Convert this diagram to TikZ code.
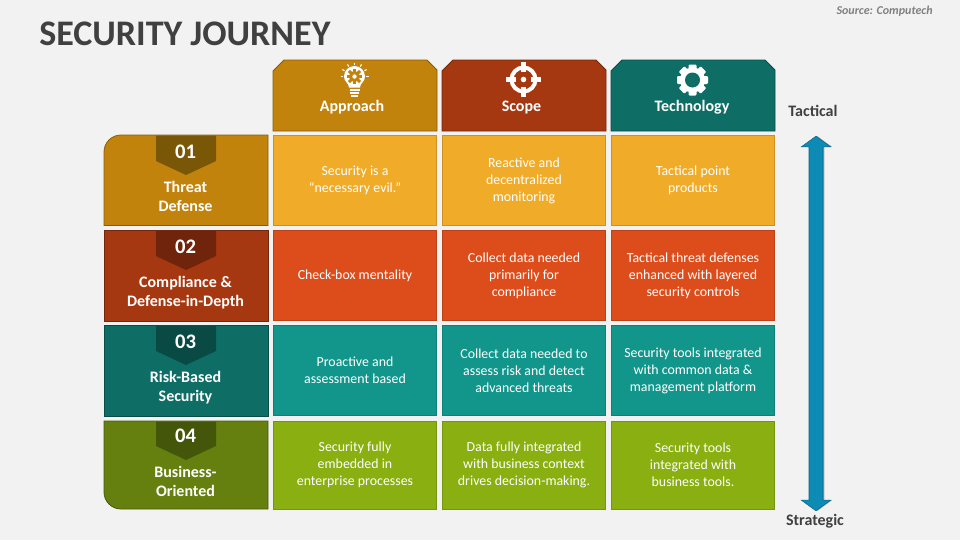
\documentclass[tikz,border=0pt]{standalone}
\usepackage{fontspec}
\setmainfont{Carlito}
\usetikzlibrary{shapes.arrows,shadows}

\definecolor{bgray}{HTML}{F2F2F2}
\definecolor{gold}{HTML}{C2830C}
\definecolor{rust}{HTML}{A53811}
\definecolor{teal2}{HTML}{0E6E66}
\definecolor{olive2}{HTML}{66800F}
\definecolor{goldlt}{HTML}{F0AB28}
\definecolor{rustlt}{HTML}{DD4D1B}
\definecolor{teallt}{HTML}{12968C}
\definecolor{olivelt}{HTML}{8AAF10}
\definecolor{golddk}{HTML}{7A5706}
\definecolor{rustdk}{HTML}{6F240B}
\definecolor{tealdk}{HTML}{0A4A45}
\definecolor{olivedk}{HTML}{445609}
\definecolor{arrowblue}{HTML}{0E8BB5}

\tikzstyle{cell}=[shape=rectangle,
                draw=#1!85!black,
                fill=#1,
                line width=0.6pt,
                minimum width=122.6pt,
                minimum height=67.8pt,
                inner sep=0pt,
                align=center,
                text=white,
                font=\fontsize{10.4}{12.75}\selectfont]
\tikzstyle{rowbox}=[draw=#1!70!black,fill=#1,line width=0.6pt]
\tikzstyle{rowtxt}=[align=center,text=white,inner sep=0pt,
                font=\fontsize{12}{14.25}\selectfont\bfseries]
\tikzstyle{numtxt}=[text=white,inner sep=0pt,font=\fontsize{15.5}{16}\selectfont\bfseries]
\tikzstyle{headtxt}=[text=white,inner sep=0pt,font=\fontsize{12}{14}\selectfont\bfseries]
\tikzstyle{sidetxt}=[text=black!75,inner sep=0pt,font=\fontsize{12}{14}\selectfont\bfseries]

\begin{document}
\begin{tikzpicture}[x=0.75pt,y=-0.75pt]

\useasboundingbox[fill=bgray] (0,0) rectangle (960,540);

% title
\node[anchor=west,inner sep=0pt,text=black!75,font=\fontsize{27}{30}\selectfont\bfseries] (title) at (39,34) {SECURITY JOURNEY};
\node[anchor=east,inner sep=0pt,text=black!50,font=\fontsize{9}{10}\selectfont\bfseries\itshape] (source) at (933,11.5) {Source: Computech};

% column heads
\draw[rowbox=gold] (273,131) -- (273,71) -- (284,60) -- (427,60) -- (437,70) -- (437,131) -- cycle;
\draw[rowbox=rust] (442,131) -- (442,71) -- (453,60) -- (596,60) -- (606,70) -- (606,131) -- cycle;
\draw[rowbox=teal2] (611,131) -- (611,71) -- (622,60) -- (765,60) -- (775,70) -- (775,131) -- cycle;

\node[headtxt] (t1) at (352,107) {Approach};
\node[headtxt] (t2) at (521.5,107.5) {Scope};
\node[headtxt] (t3) at (692,107) {Technology};

% bulb icon
\fill[white] (349,87.5) -- (360,87.5) .. controls (360,83) and (365,82) .. (365,76.5) arc (0:-180:10.5) .. controls (344,82) and (349,83) .. (349,87.5) -- cycle;
\fill[white] (349.5,89) rectangle (359.5,91);
\fill[white] (350,92) rectangle (359,94);
\fill[white] (351,95) rectangle (358,96.5);
\foreach \a in {0,45,...,315}
  \fill[gold,rotate around={\a:(354.5,76.5)}] (353,68.7) rectangle (356,72);
\fill[gold] (354.5,76.5) circle (5.6);
\fill[white] (354.5,76.5) circle (2.2);
\foreach \a in {0,-30,-60,-90,-120,-150,-180}
  \draw[white,line width=0.8pt,rotate around={\a:(354.5,76.5)}] (340.5,76.5) -- (343,76.5);

% target icon
\draw[white,line width=3pt] (523.5,79.5) circle (12);
\fill[white] (521,62) rectangle (526,72);
\fill[white] (521,87) rectangle (526,97);
\fill[white] (506,77) rectangle (516,82);
\fill[white] (531,77) rectangle (541,82);
\fill[white] (523.5,79.5) circle (2.8);

% gear icon
\foreach \a in {0,45,...,315}
  \fill[white,rounded corners=0.8pt,rotate around={\a:(692.5,80)}] (688.5,64.5) rectangle (696.5,72);
\fill[white] (692.5,80) circle (12.5);
\fill[teal2] (692.5,80) circle (7.5);

% row boxes
\draw[rowbox=gold] (268,135) -- (268,225.5) -- (104,225.5) -- (104,152) arc (180:270:17) -- cycle;
\draw[rowbox=rust] (104,230.5) rectangle (268,321);
\draw[rowbox=teal2] (104,325.5) rectangle (268,416);
\draw[rowbox=olive2] (268,421) -- (268,509) -- (121,509) arc (90:180:17) -- (104,421) -- cycle;

% badges
\fill[golddk] (156,135.5) -- (216,135.5) -- (216,161) -- (186,175) -- (156,161) -- cycle;
\fill[rustdk] (156,231) -- (216,231) -- (216,256) -- (186,270) -- (156,256) -- cycle;
\fill[tealdk] (156,326) -- (216,326) -- (216,351) -- (186,365) -- (156,351) -- cycle;
\fill[olivedk] (156,421.5) -- (216,421.5) -- (216,446) -- (186,460) -- (156,446) -- cycle;

\node[numtxt] (n1) at (185.5,152) {01};
\node[numtxt] (n2) at (185.5,247) {02};
\node[numtxt] (n3) at (185.5,342) {03};
\node[numtxt] (n4) at (185.5,436) {04};

\node[rowtxt] (r1) at (185.5,196.5) {Threat\\Defense};
\node[rowtxt] (r2) at (185.5,292.5) {Compliance \&\\Defense-in-Depth};
\node[rowtxt] (r3) at (185.5,388) {Risk-Based\\Security};
\node[rowtxt] (r4) at (185.5,481.5) {Business-\\Oriented};

% first row
\node[cell=goldlt] (a1) at (355,180.5) {Security is a\\“necessary evil.”};
\node[cell=goldlt] (b1) at (524,180.5) {Reactive and\\decentralized\\monitoring};
\node[cell=goldlt] (c1) at (693,180.5) {Tactical point\\products};

% second row
\node[cell=rustlt] (a2) at (355,275.5) {Check-box mentality};
\node[cell=rustlt] (b2) at (524,275.5) {Collect data needed\\primarily for\\compliance};
\node[cell=rustlt] (c2) at (693,275.5) {Tactical threat defenses\\enhanced with layered\\security controls};

% third row
\node[cell=teallt] (a3) at (355,370.5) {Proactive and\\assessment based};
\node[cell=teallt] (b3) at (524,370.5) {Collect data needed to\\assess risk and detect\\advanced threats};
\node[cell=teallt] (c3) at (693,370.5) {Security tools integrated\\with common data \&\\management platform};

% fourth row
\node[cell=olivelt,minimum height=66pt] (a4) at (355,465) {Security fully\\embedded in\\enterprise processes};
\node[cell=olivelt,minimum height=66pt] (b4) at (524,465) {Data fully integrated\\with business context\\drives decision-making.};
\node[cell=olivelt,minimum height=66pt] (c4) at (693,465) {Security tools\\integrated with\\business tools.};

% scale arrow
\node[shape=double arrow,rotate=90,fill=arrowblue,draw=arrowblue!75!black,line width=0.4pt,
      minimum height=281pt,minimum width=22pt,double arrow head extend=3.5pt,
      double arrow tip angle=108,inner sep=3pt,
      copy shadow={shadow xshift=1pt,shadow yshift=0pt,fill=black!35,draw=none}] (scale) at (816,323.5) {};

\node[sidetxt] (tac) at (813,111) {Tactical};
\node[sidetxt] (str) at (815,521) {Strategic};

\end{tikzpicture}
\end{document}
